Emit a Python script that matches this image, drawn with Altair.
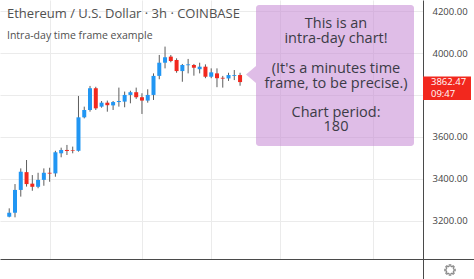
import math
import altair as alt
import pandas as pd

# ---------------- data ----------------
times = [
    "2021-08-31T03:00", "2021-08-31T06:00", "2021-08-31T09:00", "2021-08-31T12:00",
    "2021-08-31T15:00", "2021-08-31T18:00", "2021-08-31T21:00",
    "2021-09-01T00:00", "2021-09-01T03:00", "2021-09-01T06:00", "2021-09-01T09:00",
    "2021-09-01T12:00", "2021-09-01T15:00", "2021-09-01T18:00", "2021-09-01T21:00",
    "2021-09-02T00:00", "2021-09-02T03:00", "2021-09-02T06:00", "2021-09-02T09:00",
    "2021-09-02T12:00", "2021-09-02T15:00", "2021-09-02T18:00", "2021-09-02T21:00",
    "2021-09-03T00:00", "2021-09-03T03:00", "2021-09-03T06:00", "2021-09-03T09:00",
    "2021-09-03T12:00", "2021-09-03T15:00", "2021-09-03T18:00", "2021-09-03T21:00",
    "2021-09-04T00:00", "2021-09-04T03:00", "2021-09-04T06:00", "2021-09-04T09:00",
    "2021-09-04T12:00", "2021-09-04T15:00", "2021-09-04T18:00", "2021-09-04T21:00",
    "2021-09-05T00:00", "2021-09-05T03:00",
]
opens = [3219, 3238, 3347, 3432, 3377, 3362, 3395, 3429, 3426, 3522, 3538, 3536, 3534,
         3694, 3729, 3833, 3745, 3764, 3751, 3767, 3769, 3801, 3814, 3790, 3774, 3801,
         3892, 3955, 3984, 3968, 3915, 3943, 3944, 3924, 3936, 3888, 3904, 3883, 3880,
         3892, 3896]
highs = [3259, 3375, 3450, 3490, 3418, 3429, 3450, 3453, 3534, 3549, 3562, 3554, 3796,
         3745, 3844, 3840, 3772, 3774, 3772, 3836, 3817, 3821, 3836, 3809, 3828, 3904,
         3992, 4032, 3992, 3976, 3949, 3973, 3949, 3955, 3947, 3928, 3928, 3892, 3907,
         3920, 3907]
lows = [3216, 3216, 3315, 3363, 3343, 3355, 3367, 3386, 3410, 3503, 3514, 3522, 3530,
        3689, 3721, 3729, 3740, 3721, 3729, 3745, 3742, 3761, 3782, 3710, 3764, 3777,
        3876, 3928, 3957, 3907, 3864, 3904, 3893, 3904, 3881, 3881, 3838, 3836, 3868,
        3872, 3845]
closes = [3238, 3347, 3434, 3375, 3362, 3395, 3429, 3425, 3527, 3538, 3533, 3533, 3694,
          3729, 3833, 3737, 3764, 3752, 3767, 3772, 3801, 3814, 3790, 3774, 3801, 3892,
          3955, 3981, 3963, 3915, 3944, 3947, 3931, 3936, 3888, 3909, 3881, 3879, 3896,
          3896, 3862.47]

x_tick_times = ["2021-09-01T00:00", "2021-09-03T00:00", "2021-09-04T12:00",
                "2021-09-06T00:00", "2021-09-08T00:00"]
x_tick_labels = ["Sep", "3", "12:00", "6", "8"]
y_ticks = [3200, 3400, 3600, 3800, 4000, 4200]
y_hidden_label = 3800
x_domain_times = ["2021-08-31T00:48", "2021-09-08T23:30"]
y_domain = [3016.9, 4254.7]

title_text = "Ethereum / U.S. Dollar · 3h · COINBASE"
subtitle_text = "Intra-day time frame example"
callout_lines = ["This is an", "intra-day chart!", "(It's a minutes time",
                 "frame, to be precise.)", "Chart period:", "180"]
callout_line_y = [24, 39, 68.5, 83.5, 112.5, 127]
countdown = "09:47"

# ---------------- styling ----------------
W, H = 423, 259
UP = "#2196f3"
DOWN = "#f2281e"
WICK = "#5d5d5d"
GRID = "#ebebeb"
FRAME = "#4a4a4a"
FONT = "Open Sans"


def ms(t):
    return int(pd.Timestamp(t + "Z").value // 10**6)


tick_ms = [ms(t) for t in x_tick_times]
label_expr_x = " : ".join(
    f"datum.value == {m} ? '{lab}'" for m, lab in zip(tick_ms, x_tick_labels)
) + " : ''"
label_expr_y = f"datum.value == {y_hidden_label} ? '' : format(datum.value, '.2f')"

df = pd.DataFrame({
    "time": [ms(t) for t in times],
    "open": opens, "high": highs, "low": lows, "close": closes,
})
df_last = df.tail(1)

x_scale = alt.Scale(type="utc", domain=[ms(t) for t in x_domain_times])
y_scale = alt.Scale(domain=y_domain, nice=False, zero=False)
x_axis = alt.Axis(values=tick_ms, labelExpr=label_expr_x, title=None, grid=True,
                  gridColor=GRID, domainColor=FRAME, ticks=False, labelColor="#333",
                  labelFontSize=10, labelPadding=6, labelFont=FONT, labelFlush=False)
y_axis = alt.Axis(values=y_ticks, labelExpr=label_expr_y, title=None, grid=True,
                  orient="right", gridColor=GRID, domainColor=FRAME, ticks=False,
                  labelColor="#444", labelFontSize=9.5, labelPadding=9, labelFont=FONT)


def X(field):
    return alt.X(field, type="temporal", scale=x_scale, axis=x_axis)


def Y(field):
    return alt.Y(field, type="quantitative", scale=y_scale, axis=y_axis)


wicks = alt.Chart(df).mark_rule(color=WICK, strokeWidth=1).encode(
    x=X("time"), y=Y("low"), y2="high")
bodies = alt.Chart(df).mark_bar(size=4).encode(
    x=X("time"), y=Y("open"), y2="close",
    color=alt.condition("datum.close >= datum.open", alt.value(UP), alt.value(DOWN)))

price_box = alt.Chart(df_last).mark_rect(color=DOWN, yOffset=-5.5, y2Offset=18).encode(
    x=alt.value(W), x2=alt.value(W + 48), y=Y("close"), y2="close")
price_txt = alt.Chart(df_last).mark_text(
    align="left", baseline="middle", color="white", fontSize=9.5, font=FONT).encode(
    x=alt.value(W + 8), y=Y("close"), text=alt.Text("close:Q", format=".2f"))
count_txt = alt.Chart(df_last).mark_text(
    align="left", baseline="middle", color="white", fontSize=9.5, font=FONT,
    yOffset=12).encode(x=alt.value(W + 8), y=Y("close"), text=alt.value(countdown))

one = pd.DataFrame({"k": [0]})
title = alt.Chart(one).mark_text(align="left", baseline="middle", fontSize=13,
                                 color="#505050", font=FONT).encode(
    x=alt.value(7), y=alt.value(14), text=alt.value(title_text))
subtitle = alt.Chart(one).mark_text(align="left", baseline="middle", fontSize=10.5,
                                    color="#505050", font=FONT).encode(
    x=alt.value(7), y=alt.value(36), text=alt.value(subtitle_text))

CALLOUT_FILL = "#c586d4"
callout_box = alt.Chart(one).mark_rect(color=CALLOUT_FILL, opacity=0.55,
                                       cornerRadius=3).encode(
    x=alt.value(256), x2=alt.value(414), y=alt.value(5), y2=alt.value(146))
callout_ptr = alt.Chart(one).mark_point(
    shape="M 1 -1.7 L -1 0 L 1 1.7 Z", filled=True, color=CALLOUT_FILL,
    opacity=0.55, size=100, strokeWidth=0).encode(
    x=alt.value(251), y=alt.value(74.5))
callout_txts = [
    alt.Chart(one).mark_text(align="center", baseline="middle", fontSize=14.5,
                             color="#3b3b46", font=FONT).encode(
        x=alt.value(336), y=alt.value(yy), text=alt.value(line))
    for line, yy in zip(callout_lines, callout_line_y)
]

# frame extensions (price-axis column and time-axis row)
vline = alt.Chart(one).mark_rule(color=FRAME, strokeWidth=1).encode(
    x=alt.value(W + 0.5), y=alt.value(H), y2=alt.value(H + 20))
hline = alt.Chart(one).mark_rule(color=FRAME, strokeWidth=1).encode(
    x=alt.value(W), x2=alt.value(W + 51), y=alt.value(H + 0.5))

# gear icon
pts = []
for k in range(8):
    c = k * math.pi / 4
    for r, d in [(0.72, -0.24), (1.0, -0.15), (1.0, 0.15), (0.72, 0.24)]:
        pts.append((r * math.cos(c + d), r * math.sin(c + d)))
gear_path = "M " + " L ".join(f"{x:.3f} {y:.3f}" for x, y in pts) + " Z"
gear = alt.Chart(one).mark_point(shape=gear_path, filled=False, color="#555",
                                 strokeWidth=1.1, size=110).encode(
    x=alt.value(450), y=alt.value(270))

chart = alt.layer(
    wicks, bodies, price_box, price_txt, count_txt, title, subtitle,
    callout_box, callout_ptr, *callout_txts, vline, hline, gear,
).properties(
    width=W, height=H,
    padding={"left": 0, "top": 0, "right": 51, "bottom": 20},
    autosize="none", background="white",
).configure_view(stroke=None)

chart.save("out.html", embed_options={"renderer": "svg", "actions": False})
